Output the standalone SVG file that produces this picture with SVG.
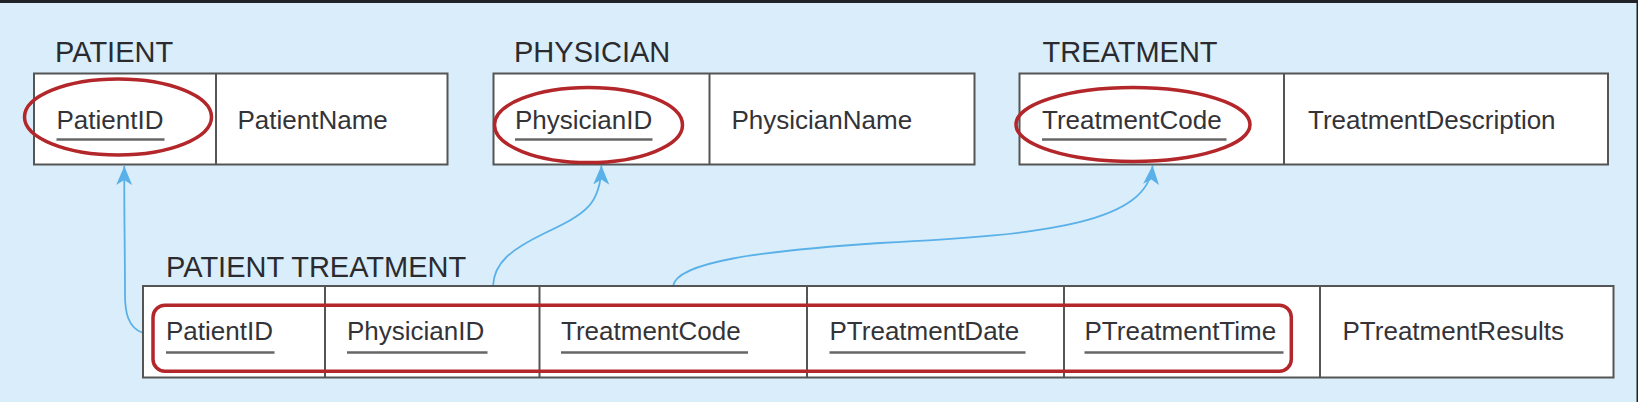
<svg xmlns="http://www.w3.org/2000/svg" width="1638" height="402" viewBox="0 0 1638 402">
<defs>
<style>
.bg{fill:#d9eefa}
.tbl{fill:#ffffff;stroke:#555;stroke-width:2}
.div{stroke:#555;stroke-width:2}
.title{font-family:"Liberation Sans",Arial,sans-serif;font-size:29px;fill:#2b2b2f}
.fld{font-family:"Liberation Sans",Arial,sans-serif;font-size:26px;fill:#333338}
.ul{stroke:#666;stroke-width:2.5}
.key{fill:none;stroke:#b3262a;stroke-width:3.5}
.conn{fill:none;stroke:#5ab0e8;stroke-width:1.8}
</style>
<marker id="ah" viewBox="0 0 19 16" refX="19" refY="8" markerWidth="19" markerHeight="16" markerUnits="userSpaceOnUse" orient="auto">
<path d="M0,0 L19,8 L0,16 L5,8 z" fill="#5ab0e8"/>
</marker>
</defs>
<rect class="bg" x="0" y="0" width="1638" height="402"/>
<rect x="0" y="0" width="1638" height="3" fill="#1f2327"/>
<rect x="1636.5" y="0" width="1.5" height="402" fill="#1f2327"/>

<g id="connectors">
<path class="conn" d="M143,333 C128,328 125,312 125,295 C125,250 124,210 124.3,166" marker-end="url(#ah)"/>
<path class="conn" d="M493,286 C494,262 512,249 545,233 C585,214 601,205 601.4,165.5" marker-end="url(#ah)"/>
<path class="conn" d="M673,286 C677,262 760,251 880,243 C1050,235 1148,222 1152.6,165.5" marker-end="url(#ah)"/>
</g>

<g id="patient">
<text class="title" x="55" y="62">PATIENT</text>
<rect class="tbl" x="34" y="73.5" width="413.5" height="91"/>
<line class="div" x1="216" y1="73.5" x2="216" y2="164.5"/>
<text class="fld" x="56.5" y="128.5">PatientID</text>
<line class="ul" x1="56.5" y1="139.5" x2="164.5" y2="139.5"/>
<text class="fld" x="237.5" y="128.5">PatientName</text>
<ellipse class="key" cx="118" cy="117" rx="93.5" ry="38"/>
</g>

<g id="physician">
<text class="title" x="514" y="62">PHYSICIAN</text>
<rect class="tbl" x="493.5" y="73.5" width="481" height="91"/>
<line class="div" x1="709.5" y1="73.5" x2="709.5" y2="164.5"/>
<text class="fld" x="515" y="128.5">PhysicianID</text>
<line class="ul" x1="515" y1="139.5" x2="652.5" y2="139.5"/>
<text class="fld" x="731.5" y="128.5">PhysicianName</text>
<ellipse class="key" cx="588.5" cy="125" rx="94" ry="37.5"/>
</g>

<g id="treatment">
<text class="title" x="1042.5" y="62">TREATMENT</text>
<rect class="tbl" x="1019.5" y="73.5" width="588.5" height="91"/>
<line class="div" x1="1284" y1="73.5" x2="1284" y2="164.5"/>
<text class="fld" x="1042" y="128.5">TreatmentCode</text>
<line class="ul" x1="1042" y1="139.5" x2="1226.5" y2="139.5"/>
<text class="fld" x="1308" y="128.5">TreatmentDescription</text>
<ellipse class="key" cx="1133" cy="124.5" rx="117" ry="37"/>
</g>

<g id="patient-treatment">
<text class="title" x="166" y="277">PATIENT TREATMENT</text>
<rect class="tbl" x="143" y="286" width="1470.5" height="91.5"/>
<line class="div" x1="325" y1="286" x2="325" y2="377.5"/>
<line class="div" x1="539.5" y1="286" x2="539.5" y2="377.5"/>
<line class="div" x1="807" y1="286" x2="807" y2="377.5"/>
<line class="div" x1="1064" y1="286" x2="1064" y2="377.5"/>
<line class="div" x1="1320" y1="286" x2="1320" y2="377.5"/>
<text class="fld" x="166" y="340">PatientID</text>
<line class="ul" x1="166" y1="352.5" x2="274.5" y2="352.5"/>
<text class="fld" x="347" y="340">PhysicianID</text>
<line class="ul" x1="347" y1="352.5" x2="487.5" y2="352.5"/>
<text class="fld" x="561" y="340">TreatmentCode</text>
<line class="ul" x1="561" y1="352.5" x2="748" y2="352.5"/>
<text class="fld" x="829.5" y="340">PTreatmentDate</text>
<line class="ul" x1="829.5" y1="352.5" x2="1025.5" y2="352.5"/>
<text class="fld" x="1084.5" y="340">PTreatmentTime</text>
<line class="ul" x1="1084.5" y1="352.5" x2="1283.5" y2="352.5"/>
<text class="fld" x="1342.5" y="340">PTreatmentResults</text>
<rect class="key" x="153" y="305.3" width="1138.3" height="66" rx="12" ry="12"/>
</g>
</svg>
